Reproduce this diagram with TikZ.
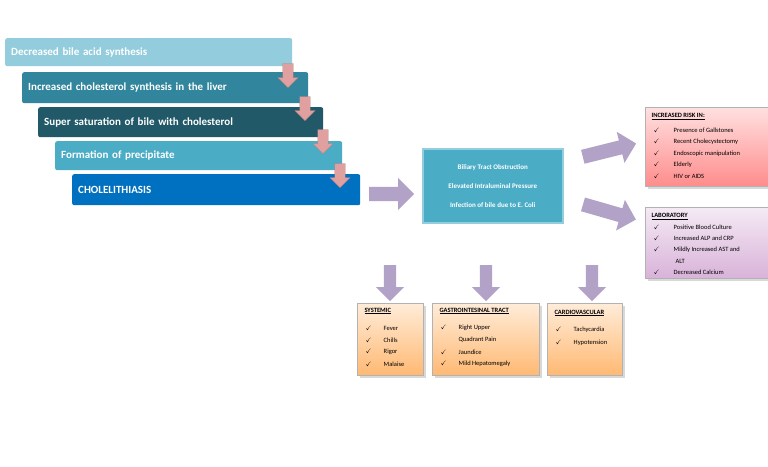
\documentclass[tikz,border=0pt]{standalone}
\usepackage{fontspec}
\usepackage{amssymb}
\setmainfont{Carlito}
\usetikzlibrary{shapes.arrows,shadows}
\definecolor{b1}{HTML}{93CDDD}
\definecolor{b2}{HTML}{31859C}
\definecolor{b3}{HTML}{215968}
\definecolor{b4}{HTML}{4BACC6}
\definecolor{b5}{HTML}{0070C0}
\definecolor{pk}{HTML}{E0A0A0}
\definecolor{pu}{HTML}{B3A2C7}
\begin{document}
\begin{tikzpicture}[x=1pt,y=-1pt,
 bar/.style={anchor=north west,minimum height=29pt,text=white,font=\bfseries\fontsize{11}{11}\selectfont,rounded corners=2pt,align=left,inner xsep=6pt,text width=#1},
 parr/.style={single arrow,fill=pk,draw=pk!80!black,line width=0.3pt,minimum width=20pt,single arrow head extend=2pt,minimum height=24pt,shape border rotate=270,inner sep=2pt},
 vio/.style={single arrow,fill=pu,minimum width=32pt,single arrow head extend=4pt,inner sep=3pt},
 lbox/.style={anchor=north west,draw=white!70!black,font=\fontsize{6.5}{9}\selectfont,align=left,inner sep=4pt,drop shadow={opacity=0.3}},
 hd/.style={font=\bfseries\fontsize{6.5}{8}\selectfont}]
\useasboundingbox (0,0) rectangle (768,466);
\fill[white] (0,0) rectangle (768,466);
\node[bar=275pt,fill=b1,minimum height=28pt] (s1) at (5,38) {Decreased bile acid synthesis};
\node[bar=274pt,fill=b2,minimum height=31pt,font=\bfseries\fontsize{11}{12}\selectfont] (s2) at (22,72) {Increased cholesterol synthesis in the liver};
\node[bar=273pt,fill=b3,minimum height=30pt] (s3) at (38,107) {Super saturation of bile with cholesterol};
\node[bar=275pt,fill=b4] (s4) at (55,141) {Formation of precipitate};
\node[bar=276pt,fill=b5,minimum height=31pt] (s5) at (72,174) {CHOLELITHIASIS};
\node[parr] (p1) at (288,73) {};
\node[parr] (p2) at (305,106) {};
\node[parr] (p3) at (323,139) {};
\node[parr] (p4) at (340,173) {};
\node[anchor=north west,fill=b4,draw=b1,line width=1.5pt,minimum width=140pt,minimum height=74pt,text=white,font=\bfseries\fontsize{7}{19}\selectfont,align=center] (c) at (422,148) {Biliary Tract Obstruction\\Elevated Intraluminal Pressure\\Infection of bile due to E. Coli};
\node[vio,minimum height=45pt] (a0) at (388,194) {};
\node[vio,minimum height=55pt,rotate=14] (a1) at (606,151) {};
\node[vio,minimum height=55pt,rotate=-16] (a2) at (606,211) {};
\node[lbox,top color=red!12,bottom color=red!45,minimum width=123pt,minimum height=79pt,anchor=north west] (r) at (645,107) {};
\node[anchor=north west,hd] at (648,110) {\underline{INCREASED RISK IN:}};
\foreach \t [count=\i] in {Presence of Gallstones,Recent Cholecystectomy,Endoscopic manipulation,Elderly,HIV or AIDS}
 \node[anchor=west,font=\fontsize{6.5}{7}\selectfont] at (650,119+11.5*\i) {$\checkmark$\hspace{14pt}\t};
\node[lbox,top color=violet!8,bottom color=violet!30,minimum width=123pt,minimum height=71pt] (l) at (645,207) {};
\node[anchor=north west,hd] at (648,210) {\underline{LABORATORY}};
\foreach \t/\yy in {Positive Blood Culture/227,Increased ALP and CRP/238.5,Mildly Increased AST and/250,Decreased Calcium/272}
 \node[anchor=west,font=\fontsize{6.5}{7}\selectfont] at (650,\yy) {$\checkmark$\hspace{14pt}\t};
\node[anchor=west,font=\fontsize{6.5}{7}\selectfont] at (672,261) {ALT};
\foreach \x/\n in {390/d1,486/d2,592/d3}
 \node[vio,minimum height=36pt,minimum width=28pt,shape border rotate=270] (\n) at (\x,280) {};
\tikzset{ob/.style={lbox,top color=orange!15,bottom color=orange!55}}
\node[ob,minimum width=66pt,minimum height=72pt] (sy) at (357,303) {};
\node[ob,minimum width=107pt,minimum height=72pt] (gi) at (432,303) {};
\node[ob,minimum width=75pt,minimum height=72pt] (cv) at (547,303) {};
\node[anchor=west,hd] at (361,311) {\underline{SYSTEMIC}};
\node[anchor=west,hd] at (436,311) {\underline{GASTROINTESINAL TRACT}};
\node[anchor=west,hd] at (551,313) {\underline{CARDIOVASCULAR}};
\foreach \t/\yy in {Fever/328,Chills/340,Rigor/352,Malaise/364}
 \node[anchor=west,font=\fontsize{6.5}{7}\selectfont] at (362,\yy) {$\checkmark$\hspace{12pt}\t};
\foreach \t/\yy in {Right Upper/328,Jaundice/352,Mild Hepatomegaly/364}
 \node[anchor=west,font=\fontsize{6.5}{7}\selectfont] at (437,\yy) {$\checkmark$\hspace{12pt}\t};
\node[anchor=west,font=\fontsize{6.5}{7}\selectfont] at (455,340) {Quadrant Pain};
\foreach \t/\yy in {Tachycardia/330,Hypotension/343}
 \node[anchor=west,font=\fontsize{6.5}{7}\selectfont] at (552,\yy) {$\checkmark$\hspace{12pt}\t};
\end{tikzpicture}
\end{document}
